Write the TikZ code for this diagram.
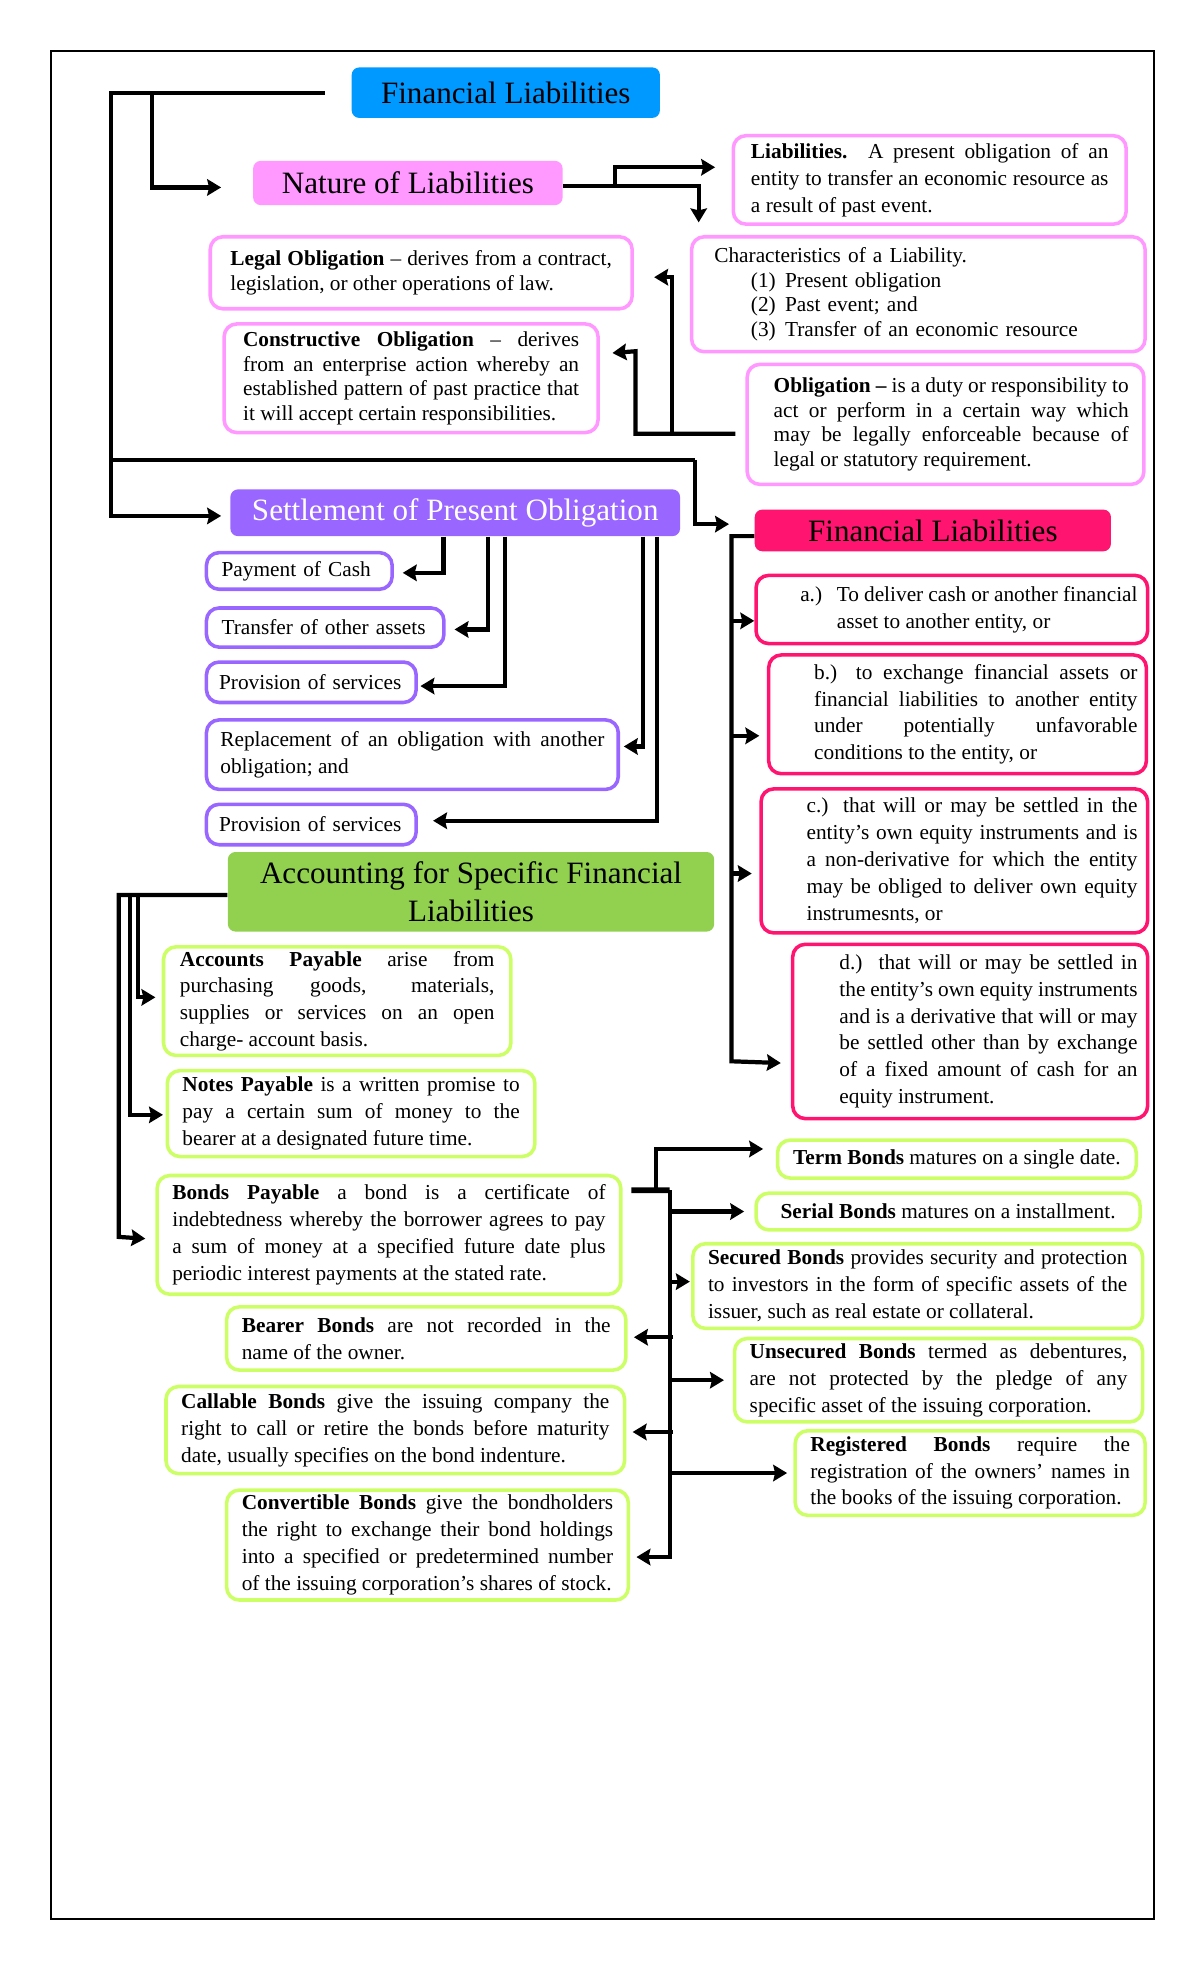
\documentclass[tikz,border=0pt]{standalone}
\usepackage{fontspec}
\setmainfont{Liberation Serif}
\usepackage{xcolor}
\usepackage{tikz}
\usetikzlibrary{arrows.meta, positioning}
\setlength{\parindent}{0pt}
\hyphenpenalty=10000
\exhyphenpenalty=10000

\definecolor{flblue}{RGB}{0,153,255}
\definecolor{natpink}{RGB}{255,153,255}
\definecolor{setpurple}{RGB}{153,102,255}
\definecolor{finred}{RGB}{255,20,112}
\definecolor{accgreen}{RGB}{146,208,80}
\definecolor{bondgreen}{RGB}{204,255,102}

\begin{document}
\begin{tikzpicture}[x=0.02cm, y=-0.02cm,
    >={Stealth[length=0.22cm, width=0.26cm, inset=0.03cm]},
    font=\fontsize{9.6}{12.1}\selectfont,
    headbox/.style={fill=#1, rounded corners=0.12cm, inner sep=0pt, anchor=north west, font=\fontsize{14}{17}\selectfont, align=center},
    card/.style={draw=#1, line width=1.6pt, rounded corners=0.2cm, anchor=north west, inner xsep=0.24cm, inner ysep=0pt, align=justify},
    tightlead/.style={font=\fontsize{9.6}{11.1}\selectfont},
    link/.style={line width=1.9pt}]
        \useasboundingbox (0,0) rectangle (950,1564);
        % Page frame
        \draw[line width=0.9pt] (40,40) rectangle (913,1519);

        % Headings
        \node[headbox=flblue, minimum width=4.88cm, minimum height=0.8cm] (topfl) at (278,53) {Financial Liabilities};
        \node[headbox=natpink, minimum width=4.9cm, minimum height=0.7cm] (nature) at (200,127) {Nature of Liabilities};
        \node[headbox=setpurple, text=white, minimum width=7.12cm, minimum height=0.74cm] (settle) at (182,387) {Settlement of Present Obligation};
        \node[headbox=finred, minimum width=5.64cm, minimum height=0.66cm] (finl) at (597,403) {Financial Liabilities};
        \node[headbox=accgreen, minimum width=7.7cm, minimum height=1.26cm] (acct) at (180,674) {Accounting for Specific Financial\\ Liabilities};

        % Nature of liabilities
        \node[card=natpink, text width=5.66cm, inner xsep=0.28cm, minimum height=1.4cm] (liab) at (579,106) {\textbf{Liabilities.} A present obligation of an\linebreak entity to transfer an economic resource as\linebreak a result of past event.};
        \node[card=natpink, tightlead, align=left, text width=6.46cm, inner xsep=0.36cm, minimum height=1.82cm] (chars) at (546,186) {Characteristics of a Liability.\\ \hspace*{0.58cm}\makebox[0.54cm][l]{(1)}Present obligation\\ \hspace*{0.58cm}\makebox[0.54cm][l]{(2)}Past event; and\\ \hspace*{0.58cm}\makebox[0.54cm][l]{(3)}Transfer of an economic resource};
        \node[card=natpink, tightlead, text width=5.8cm, minimum height=1.9cm] (oblig) at (590,287) {\leftskip=0.18cm \textbf{Obligation –} is a duty or responsibility to\linebreak act or perform in a certain way which\linebreak may be legally enforceable because of\linebreak legal or statutory requirement.\par};
        \node[card=natpink, tightlead, text width=6.04cm, inner xsep=0.32cm, minimum height=1.14cm] (legal) at (165,186) {\textbf{Legal Obligation} – derives from a contract,\linebreak legislation, or other operations of law.};
        \node[card=natpink, tightlead, text width=5.32cm, inner xsep=0.3cm, minimum height=1.72cm] (constr) at (176,255) {\textbf{Constructive Obligation} – derives\linebreak from an enterprise action whereby an\linebreak established pattern of past practice that\linebreak it will accept certain responsibilities.};

        % Settlement of present obligation
        \node[card=setpurple, align=left, text width=2.46cm, minimum height=0.58cm] (pay) at (162,436) {\mbox{Payment of Cash}};
        \node[card=setpurple, align=left, text width=3.28cm, minimum height=0.62cm, below=0.24cm of pay.south west, anchor=north west] (transfer) {\mbox{Transfer of other assets}};
        \node[card=setpurple, align=left, text width=2.92cm, inner xsep=0.2cm, minimum height=0.64cm, below=0.18cm of transfer.south west, anchor=north west] (provA) {\mbox{Provision of services}};
        \node[card=setpurple, text width=6.08cm, inner xsep=0.22cm, minimum height=1.1cm, below=0.22cm of provA.south west, anchor=north west] (replace) {Replacement of an obligation with another\linebreak obligation; and};
        \node[card=setpurple, align=left, text width=2.92cm, inner xsep=0.2cm, minimum height=0.64cm, below=0.18cm of replace.south west, anchor=north west] (provB) {\mbox{Provision of services}};

        % Financial liabilities
        \node[card=finred, text width=5.88cm, inner xsep=0.16cm, minimum height=1.08cm] (fla) at (597,454) {\leftskip=1.12cm\hspace*{-0.58cm}\makebox[0.58cm][l]{a.)}To deliver cash or another financial\linebreak asset to another entity, or\par};
        \node[card=finred, text width=5.7cm, inner xsep=0.14cm, minimum height=1.88cm] (flb) at (607,517) {\leftskip=0.58cm\makebox[0.66cm][l]{b.)}to exchange financial assets or\linebreak financial liabilities to another entity\linebreak under potentially unfavorable\linebreak conditions to the entity, or\par};
        \node[card=finred, text width=5.8cm, inner xsep=0.16cm, minimum height=2.28cm] (flc) at (601,623) {\leftskip=0.56cm\makebox[0.58cm][l]{c.)}that will or may be settled in the\linebreak entity’s own equity instruments and is\linebreak a non-derivative for which the entity\linebreak may be obliged to deliver own equity\linebreak instrumesnts, or\par};
        \node[card=finred, text width=5.3cm, inner xsep=0.16cm, minimum height=2.76cm] (fld) at (626,746) {\leftskip=0.58cm\makebox[0.62cm][l]{d.)}that will or may be settled in\linebreak the entity’s own equity instruments\linebreak and is a derivative that will or may\linebreak be settled other than by exchange\linebreak of a fixed amount of cash for an\linebreak equity instrument.\par};

        % Accounting for specific financial liabilities
        \node[card=bondgreen, text width=4.98cm, inner xsep=0.26cm, minimum height=1.72cm] (ap) at (128,748) {\textbf{Accounts Payable} arise from\linebreak purchasing goods, materials,\linebreak supplies or services on an open\linebreak charge- account basis.};
        \node[card=bondgreen, text width=5.34cm, minimum height=1.36cm] (np) at (131,846) {\textbf{Notes Payable} is a written promise to\linebreak pay a certain sum of money to the\linebreak bearer at a designated future time.};
        \node[card=bondgreen, text width=6.86cm, minimum height=1.88cm] (bp) at (123,929) {\textbf{Bonds Payable} a bond is a certificate of\linebreak indebtedness whereby the borrower agrees to pay\linebreak a sum of money at a specified future date plus\linebreak periodic interest payments at the stated rate.};
        \node[card=bondgreen, text width=5.84cm, minimum height=1.0cm] (bearer) at (178,1033) {\textbf{Bearer Bonds} are not recorded in the\linebreak name of the owner.};
        \node[card=bondgreen, text width=6.78cm, minimum height=1.38cm] (callable) at (130,1096) {\textbf{Callable Bonds} give the issuing company the\linebreak right to call or retire the bonds before maturity\linebreak date, usually specifies on the bond indenture.};
        \node[card=bondgreen, text width=5.88cm, minimum height=1.74cm] (convert) at (178,1178) {\textbf{Convertible Bonds} give the bondholders\linebreak the right to exchange their bond holdings\linebreak into a specified or predetermined number\linebreak of the issuing corporation’s shares of stock.};
        \node[card=bondgreen, minimum width=5.68cm, minimum height=0.6cm] (term) at (614,901) {\textbf{Term Bonds} matures on a single date.};
        \node[card=bondgreen, minimum width=6.08cm, minimum height=0.58cm] (serial) at (597,943) {\textbf{Serial Bonds} matures on a installment.};
        \node[card=bondgreen, text width=6.64cm, minimum height=1.34cm] (secured) at (547,983) {\textbf{Secured Bonds} provides security and protection\linebreak to investors in the form of specific assets of the\linebreak issuer, such as real estate or collateral.};
        \node[card=bondgreen, text width=5.98cm, minimum height=1.32cm] (unsecured) at (580,1058) {\textbf{Unsecured Bonds} termed as debentures,\linebreak are not protected by the pledge of any\linebreak specific asset of the issuing corporation.};
        \node[card=bondgreen, text width=5.06cm, minimum height=1.34cm] (registered) at (628,1131) {\textbf{Registered Bonds} require the\linebreak registration of the owners’ names in\linebreak the books of the issuing corporation.};

        % Arrows from the top heading
        \draw[link] ([xshift=-0.42cm]topfl.west) -| (88,364) -- (550,364);
        \draw[link,->] (550,364) |- ([xshift=-0.4cm,yshift=0.1cm]finl.west);
        \draw[link,->] (88,364) |- ([xshift=-0.14cm,yshift=-0.05cm]settle.west);
        \draw[link,->] (120,73) |- ([xshift=-0.5cm,yshift=-0.07cm]nature.west);

        % Arrows of the nature of liabilities
        \draw[link,->] ([yshift=-0.05cm]nature.east) -| ([xshift=0.14cm,yshift=0.2cm]chars.north west);
        \draw[link,->] (487,147) |- ([xshift=-0.26cm,yshift=0.2cm]liab.west);
        \draw[link,->] ([xshift=-0.16cm,yshift=-0.15cm]oblig.west) -| (503,278) -- ([xshift=0.2cm,yshift=0.4cm]constr.east);
        \draw[link,->] (532,342) |- ([xshift=0.32cm,yshift=-0.07cm]legal.east);

        % Arrows of the settlement
        \draw[link,->] ([xshift=3.38cm]settle.south west) |- ([xshift=0.14cm,yshift=-0.03cm]pay.east);
        \draw[link,->] ([xshift=4.08cm]settle.south west) |- ([xshift=0.14cm,yshift=-0.03cm]transfer.east);
        \draw[link,->] ([xshift=4.36cm]settle.south west) |- ([xshift=0.04cm,yshift=-0.06cm]provA.east);
        \draw[link,->] ([xshift=6.54cm]settle.south west) |- ([xshift=0.06cm,yshift=0.13cm]replace.east);
        \draw[link,->] ([xshift=6.76cm]settle.south west) |- ([xshift=0.24cm,yshift=0.06cm]provB.east);

        % Arrows of the financial liabilities
        \draw[link,->] ([yshift=-0.09cm]finl.west) -| (579,840) -- ([xshift=-0.16cm,yshift=-0.5cm]fld.west);
        \draw[link,->] ([xshift=-0.36cm,yshift=-0.18cm]fla.west) -- ([yshift=-0.18cm]fla.west);
        \draw[link,->] ([xshift=-0.56cm,yshift=-0.34cm]flb.west) -- ([xshift=-0.12cm,yshift=-0.34cm]flb.west);
        \draw[link,->] ([xshift=-0.44cm,yshift=-0.2cm]flc.west) -- ([xshift=-0.12cm,yshift=-0.2cm]flc.west);

        % Arrows of the accounting part
        \draw[link,->] ([yshift=-0.05cm]acct.west) -| (94,979) -- ([xshift=-0.16cm,yshift=-0.06cm]bp.west);
        \draw[link,->] (103,708) |- ([xshift=-0.04cm,yshift=-0.02cm]np.west);
        \draw[link,->] (109,708) |- ([xshift=-0.1cm,yshift=0.06cm]ap.west);

        % Arrows of the bonds
        \draw[link, line width=2.6pt] ([xshift=0.14cm,yshift=-0.26cm]bp.north east) -- (530,942);
        \draw[link,->] (530,942) |- ([xshift=0.1cm,yshift=-0.19cm]convert.east);
        \draw[link,->] (519,942) |- ([xshift=-0.2cm,yshift=0.16cm]term.west);
        \draw[link,->] ([xshift=-1.34cm]serial.west) -- ([xshift=-0.16cm]serial.west);
        \draw[link,->] ([xshift=-0.34cm,yshift=0.07cm]secured.west) -- ([xshift=-0.02cm,yshift=0.07cm]secured.west);
        \draw[link,->] ([xshift=0.72cm,yshift=0.02cm]bearer.east) -- ([xshift=0.1cm,yshift=0.02cm]bearer.east);
        \draw[link,->] ([xshift=-1.0cm]unsecured.west) -- ([xshift=-0.14cm]unsecured.west);
        \draw[link,->] ([xshift=0.74cm,yshift=-0.03cm]callable.east) -- ([xshift=0.1cm,yshift=-0.03cm]callable.east);
        \draw[link,->] ([xshift=-1.96cm]registered.west) -- ([xshift=-0.1cm]registered.west);

    \end{tikzpicture}
\end{document}
